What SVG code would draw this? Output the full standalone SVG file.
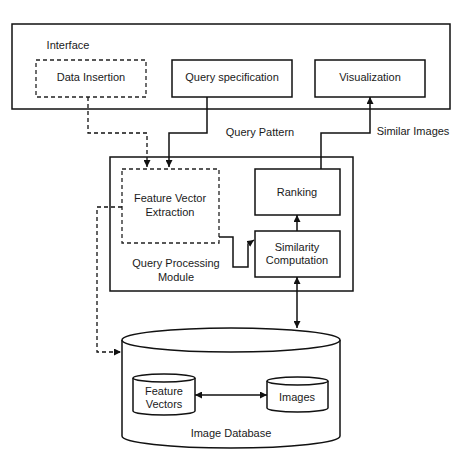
<svg xmlns="http://www.w3.org/2000/svg" width="474" height="474" viewBox="0 0 474 474">
<style>
text{font-family:"Liberation Sans",Arial,sans-serif;font-size:11px;fill:#1a1a1a;text-anchor:middle;dominant-baseline:central}
.b{fill:#fff;stroke:#111;stroke-width:1.5}
.d{fill:#fff;stroke:#222;stroke-width:1.3;stroke-dasharray:4 3}
.c{fill:none;stroke:#111;stroke-width:1.5}
.cd{fill:none;stroke:#111;stroke-width:1.3;stroke-dasharray:4 3}
</style>
<defs>
<marker id="a" viewBox="0 0 10 10" refX="10" refY="5" markerWidth="7" markerHeight="7" markerUnits="userSpaceOnUse" orient="auto-start-reverse"><path d="M0,0L10,5L0,10z" fill="#111"/></marker>
</defs>
<rect width="474" height="474" fill="#fff"/>
<g id="interface"><rect class="b" x="12" y="24" width="438" height="85"/><text x="68" y="45">Interface</text></g>
<g id="data-insertion"><rect class="d" x="36" y="60" width="110" height="37"/><text x="91" y="77">Data Insertion</text></g>
<g id="query-spec"><rect class="b" x="172" y="60" width="120" height="37"/><text x="232" y="77">Query specification</text></g>
<g id="visualization"><rect class="b" x="315" y="60" width="110" height="37"/><text x="370" y="77">Visualization</text></g>
<g id="qpm"><rect class="b" x="110" y="157" width="243" height="134"/><text x="176" y="263">Query Processing</text><text x="176" y="277">Module</text></g>
<g id="fve"><rect class="d" x="122" y="169" width="97" height="74"/><text x="170" y="198">Feature Vector</text><text x="170" y="212">Extraction</text></g>
<g id="ranking"><rect class="b" x="255" y="169" width="85" height="46"/><text x="297" y="192">Ranking</text></g>
<g id="similarity"><rect class="b" x="255" y="231" width="85" height="46"/><text x="297" y="247">Similarity</text><text x="297" y="260">Computation</text></g>
<g id="image-db">
<path class="b" d="M122,340 V436 A109,12 0 0 0 340,436 V340"/>
<ellipse class="b" cx="231" cy="340" rx="109" ry="12"/>
<text x="231" y="433">Image Database</text>
</g>
<g id="feature-vectors">
<path class="b" d="M133,378 V411 A31,4 0 0 0 195,411 V378"/>
<ellipse class="b" cx="164" cy="378" rx="31" ry="4"/>
<text x="164" y="391">Feature</text><text x="164" y="404">Vectors</text>
</g>
<g id="images">
<path class="b" d="M267,381 V408 A30.5,4 0 0 0 328,408 V381"/>
<ellipse class="b" cx="297.5" cy="381" rx="30.5" ry="4"/>
<text x="297" y="397">Images</text>
</g>
<g id="connectors">
<path class="cd" d="M88,97 V133 H147 V167" marker-end="url(#a)"/>
<path class="c" d="M207,97 V133 H169 V167" marker-end="url(#a)"/>
<text x="260" y="132">Query Pattern</text>
<path class="c" d="M321,169 V133 H370 V97" marker-end="url(#a)"/>
<text x="413" y="131">Similar Images</text>
<path class="c" d="M297,231 V215" marker-end="url(#a)"/>
<path class="c" d="M219,237 H233 V267 H248 V244 L254,240" marker-end="url(#a)"/>
<path class="c" d="M297,277 V328" marker-start="url(#a)" marker-end="url(#a)"/>
<path class="cd" d="M122,207 H97 V352 H121" marker-end="url(#a)"/>
<path class="c" d="M195,395 H267" marker-start="url(#a)" marker-end="url(#a)"/>
</g>
</svg>
